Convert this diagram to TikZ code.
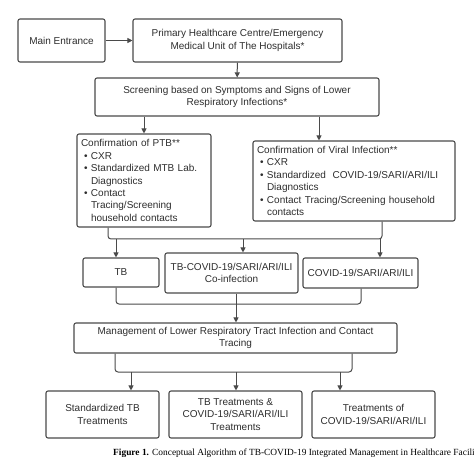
\documentclass[tikz,border=0pt]{standalone}
\usepackage{fontspec}
\setmainfont{Liberation Sans}
\newfontfamily\capfont{Liberation Serif}
\usetikzlibrary{arrows.meta}
\definecolor{ink}{HTML}{2E2E2E}
\definecolor{edge}{HTML}{4A4A4A}
\newcommand{\itm}{\hspace*{3pt}\makebox[7pt][l]{\textbullet}}
\newcommand{\cnt}{\hspace*{10pt}}
\tikzset{
  box/.style={draw=edge, line width=1.1pt, rounded corners=2pt, text=ink, font=\fontsize{10}{12.4}\selectfont, align=center, inner sep=0pt},
  listbox/.style={box, align=left, inner xsep=4pt},
  line/.style={draw=edge, line width=1pt, rounded corners=3pt},
  arr/.style={line, -{Triangle[length=5pt,width=5pt]}},
}
\begin{document}
\begin{tikzpicture}[x=1pt, y=-1pt]
  \useasboundingbox[fill=white] (0,0) rectangle (474,457);
  \node[box, minimum width=87pt, minimum height=43pt] (entry) at (61.5,40.5) {Main Entrance};
  \node[box, minimum width=209pt, minimum height=43pt] (phc) at (237.5,40.5) {Primary Healthcare Centre/Emergency\\Medical Unit of The Hospitals*};
  \node[box, minimum width=284pt, minimum height=38pt] (screen) at (237,97) {Screening based on Symptoms and Signs of Lower\\Respiratory Infections*};
  \node[listbox, text width=126pt, minimum height=93pt] (ptb) at (144,180.5) {Confirmation of PTB**\\
    \itm CXR\\
    \itm Standardized MTB Lab.\\
    \cnt Diagnostics\\
    \itm Contact\\
    \cnt Tracing/Screening\\
    \cnt household contacts};
  \node[listbox, text width=194pt, minimum height=80pt] (viral) at (354,181) {Confirmation of Viral Infection**\\
    \itm CXR\\
    \itm Standardized\ \ COVID-19/SARI/ARI/ILI\\
    \cnt Diagnostics\\
    \itm Contact Tracing/Screening household\\
    \cnt contacts};
  \node[box, minimum width=76pt, minimum height=29pt] (tb) at (121,272.5) {TB};
  \node[box, minimum width=133pt, minimum height=40pt] (coinf) at (231.5,273) {TB-COVID-19/SARI/ARI/ILI\\Co-infection};
  \node[box, minimum width=115pt, minimum height=30pt] (covid) at (360.5,273) {COVID-19/SARI/ARI/ILI};
  \node[box, minimum width=323pt, minimum height=30pt] (manage) at (235.5,338) {Management of Lower Respiratory Tract Infection and Contact\\Tracing};
  \node[box, minimum width=113pt, minimum height=47pt] (trtb) at (102.5,414.5) {Standardized TB\\Treatments};
  \node[box, minimum width=133pt, minimum height=47pt] (trboth) at (235.5,414.5) {TB Treatments \&\\COVID-19/SARI/ARI/ILI\\Treatments};
  \node[box, minimum width=123pt, minimum height=47pt] (trcov) at (373.5,414.5) {Treatments of\\COVID-19/SARI/ARI/ILI};
  \draw[arr] (entry) -- (phc);
  \draw[arr] (phc) -- (screen);
  \draw[arr] (screen.south -| ptb.north) -- (ptb.north);
  \draw[arr] (319,0 |- screen.south) -- (319,0 |- viral.north);
  \draw[line] (108,0 |- ptb.south) |- (382,239) -- (382,0 |- viral.south);
  \foreach \x/\n in {116/tb,243/coinf,380/covid}
    \draw[arr] (\x,239) -- (\x,0 |- \n.north);
  \draw[line] (116,0 |- tb.south) |- (361,304) -- (361,0 |- covid.south);
  \draw[arr] (236,0 |- coinf.south) -- (236,0 |- manage.north);
  \draw[line] (115,0 |- manage.south) |- (352,372) -- (352,0 |- manage.south);
  \foreach \x/\n in {131/trtb,236/trboth,340/trcov}
    \draw[arr] (\x,372) -- (\x,0 |- \n.north);
  \node[anchor=base west, inner sep=0pt, text=black, font=\capfont\fontsize{9.4}{11}\selectfont] (cap) at (113,455) {\textbf{Figure 1.} Conceptual Algorithm of TB-COVID-19 Integrated Management in Healthcare Facili};
\end{tikzpicture}
\end{document}
